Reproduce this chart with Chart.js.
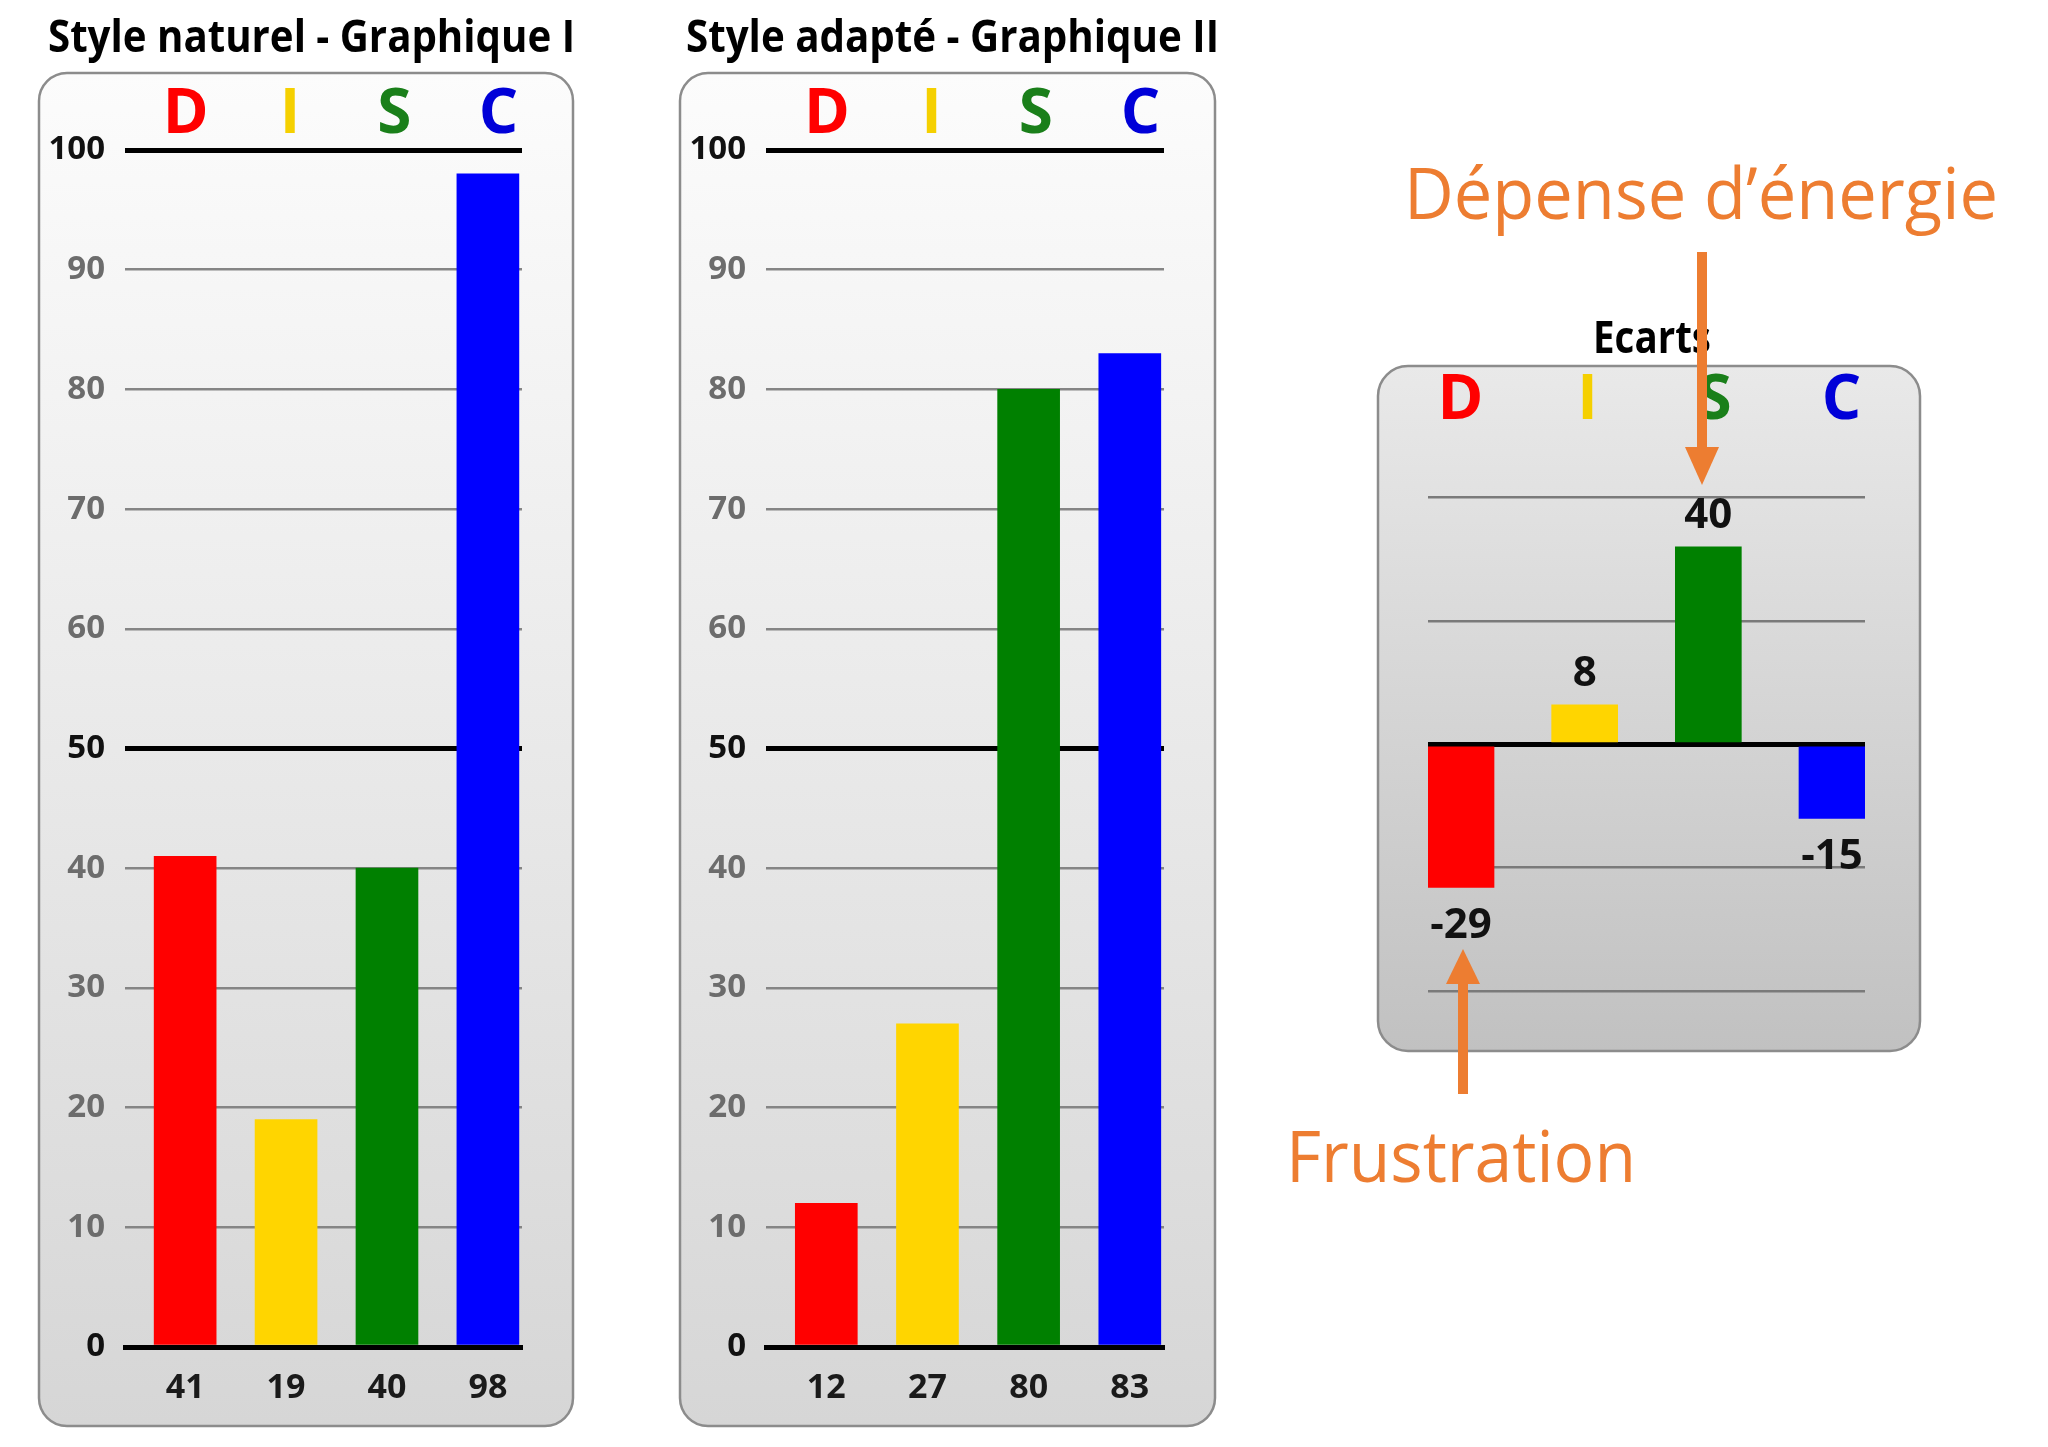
<!DOCTYPE html>
<html lang="fr">
<head>
<meta charset="utf-8">
<title>Style naturel - Style adapté - Ecarts</title>
<script src="https://cdn.jsdelivr.net/npm/chart.js@4.4.1/dist/chart.umd.min.js"></script>
<style>
  body {
    margin: 0;
    background: #fff;
    width: 2048px;
    height: 1447px;
    position: relative;
    overflow: hidden;
    font-family: 'Open Sans', sans-serif;
  }
  svg, canvas { position: absolute; }
  #back, #front { left: 0; top: 0; }
  #front { pointer-events: none; }
  #chartNat { left: 39px; top: 73px; }
  #chartAda { left: 680px; top: 73px; }
  #chartEcarts { left: 1378px; top: 366px; }
</style>
</head>
<body>
<svg id="back" width="2048" height="1447">
  <defs>
    <linearGradient id="gPanel" x1="0" y1="0" x2="0" y2="1">
      <stop offset="0" stop-color="#fcfcfc"/>
      <stop offset="1" stop-color="#d6d6d6"/>
    </linearGradient>
    <linearGradient id="gEcarts" x1="0" y1="0" x2="0" y2="1">
      <stop offset="0" stop-color="#e9e9e9"/>
      <stop offset="1" stop-color="#c1c1c1"/>
    </linearGradient>
  </defs>
  <rect x="39" y="73" width="534" height="1353" rx="28" fill="url(#gPanel)" stroke="#8c8c8c" stroke-width="2.5"/>
  <rect x="680" y="73" width="535" height="1353" rx="28" fill="url(#gPanel)" stroke="#8c8c8c" stroke-width="2.5"/>
  <rect x="1378" y="366" width="542" height="685" rx="30" fill="url(#gEcarts)" stroke="#8c8c8c" stroke-width="2.5"/>
</svg>

<canvas id="chartNat" width="534" height="1353"></canvas>
<canvas id="chartAda" width="535" height="1353"></canvas>
<canvas id="chartEcarts" width="542" height="685"></canvas>

<svg id="front" width="2048" height="1447" font-family="'Open Sans', sans-serif">
  <text x="48" y="52" font-size="44" font-weight="bold" fill="#000" textLength="527" lengthAdjust="spacingAndGlyphs">Style naturel - Graphique I</text>
  <text x="686" y="52" font-size="44" font-weight="bold" fill="#000" textLength="533" lengthAdjust="spacingAndGlyphs">Style adapté - Graphique II</text>
  <text x="1593" y="353" font-size="44" font-weight="bold" fill="#000" textLength="118" lengthAdjust="spacingAndGlyphs">Ecarts</text>
  <text x="1404" y="219" font-size="72" fill="#ed7d31" textLength="594" lengthAdjust="spacingAndGlyphs">Dépense d’énergie</text>
  <text x="1286" y="1182" font-size="72" fill="#ed7d31" textLength="350" lengthAdjust="spacingAndGlyphs">Frustration</text>
  <!-- flèches -->
  <rect x="1697" y="252" width="10" height="200" fill="#ed7d31"/>
  <polygon points="1685,447 1719,447 1702,485" fill="#ed7d31"/>
  <rect x="1458" y="980" width="10" height="114" fill="#ed7d31"/>
  <polygon points="1446,984 1480,984 1463,949" fill="#ed7d31"/>
</svg>

<script>
const categories = ['D', 'I', 'S', 'C'];
const naturel = [41, 19, 40, 98];
const adapte = [12, 27, 80, 83];
const ecarts = [-29, 8, 40, -15];

const barColors = ['#ff0000', '#ffd500', '#008000', '#0000ff'];
const letterColors = ['#ff0000', '#f5d000', '#1a7f1a', '#0000d8'];

Chart.defaults.font.family = "'Open Sans', sans-serif";

function toPoints(values) {
    return values.map((v, i) => ({ x: i, y: v }));
}

// valeur du tick, si le contexte en a une
const tv = (c) => (c && c.tick ? c.tick.value : null);
const major = (c) => tv(c) !== null && tv(c) % 50 === 0;

// graphiques 0-100 (naturel et adapté)
function discChart(id, values) {
    return new Chart(document.getElementById(id), {
        type: 'bar',
        data: {
            datasets: [{
                data: toPoints(values),
                backgroundColor: barColors,
                barThickness: 62,
                xAxisID: 'x',
                yAxisID: 'y'
            }]
        },
        options: {
            responsive: false,
            animation: false,
            layout: { padding: { left: 0, right: 51, top: 0, bottom: 0 } },
            plugins: { legend: { display: false }, tooltip: { enabled: false } },
            scales: {
                x: {
                    type: 'linear', position: 'bottom', offset: false,
                    min: -0.596, max: 3.338,
                    grid: { display: false },
                    border: { display: true, color: '#000', width: 5, z: 1 },
                    ticks: {
                        stepSize: 1, includeBounds: false, padding: 16,
                        color: '#1a1a1a',
                        font: { size: 34, weight: 'bold', lineHeight: 1 },
                        callback: (v) => values[v] !== undefined ? String(values[v]) : ''
                    },
                    afterFit: (s) => { s.height = 79; }
                },
                xTop: {
                    type: 'linear', position: 'top', offset: false,
                    min: -0.582, max: 3.225,
                    grid: { display: false },
                    border: { display: false },
                    ticks: {
                        stepSize: 1, includeBounds: false, padding: 0,
                        color: (c) => letterColors[tv(c)] || '#000',
                        font: { size: 62, weight: 'bold', lineHeight: '54px' },
                        callback: (v) => categories[v] || ''
                    },
                    afterFit: (s) => { s.height = 77; }
                },
                y: {
                    min: 0, max: 100,
                    border: { display: false },
                    grid: {
                        drawTicks: false,
                        color: (c) => major(c) ? '#000' : '#858585',
                        lineWidth: (c) => major(c) ? 5 : 2.5
                    },
                    ticks: {
                        stepSize: 10, padding: 20,
                        color: (c) => major(c) ? '#111' : '#6c6c6c',
                        font: { size: 33, weight: 'bold', lineHeight: 1 }
                    },
                    afterFit: (s) => { s.width = 86; }
                }
            }
        }
    });
}

discChart('chartNat', naturel);
discChart('chartAda', adapte);

// étiquettes des valeurs pour les écarts
const valueLabels = {
    id: 'valueLabels',
    afterDatasetsDraw(chart) {
        const ctx = chart.ctx;
        const meta = chart.getDatasetMeta(0);
        ctx.save();
        ctx.font = "bold 42px 'Open Sans', sans-serif";
        ctx.fillStyle = '#111';
        ctx.textAlign = 'center';
        ctx.textBaseline = 'middle';
        meta.data.forEach((bar, i) => {
            const v = ecarts[i];
            ctx.fillText(String(v), bar.x, v >= 0 ? bar.y - 31 : bar.y + 39);
        });
        ctx.restore();
    }
};

new Chart(document.getElementById('chartEcarts'), {
    type: 'bar',
    data: {
        datasets: [{
            data: toPoints(ecarts),
            backgroundColor: barColors,
            barThickness: 66,
            xAxisID: 'x',
            yAxisID: 'y'
        }]
    },
    options: {
        responsive: false,
        animation: false,
        layout: { padding: { left: 0, right: 55, top: 0, bottom: 0 } },
        plugins: { legend: { display: false }, tooltip: { enabled: false } },
        scales: {
            x: {
                type: 'linear', position: 'bottom', offset: false,
                min: -0.267, max: 3.267,
                grid: { display: false },
                border: { display: false },
                ticks: { display: false, stepSize: 1 },
                afterFit: (s) => { s.height = 60; }
            },
            xTop: {
                type: 'linear', position: 'top', offset: false,
                min: -0.256, max: 3.184,
                grid: { display: false },
                border: { display: false },
                ticks: {
                    stepSize: 1, includeBounds: false, padding: 0,
                    color: (c) => letterColors[tv(c)] || '#000',
                    font: { size: 62, weight: 'bold', lineHeight: '176px' },
                    callback: (v) => categories[v] || ''
                },
                afterFit: (s) => { s.height = 131.6; }
            },
            y: {
                min: -50, max: 50,
                border: { display: false },
                grid: {
                    drawTicks: false,
                    color: (c) => tv(c) === 0 ? '#000' : '#7a7a7a',
                    lineWidth: (c) => tv(c) === 0 ? 5 : 2.5
                },
                ticks: { display: false, stepSize: 25 },
                afterFit: (s) => { s.width = 50; }
            }
        }
    },
    plugins: [valueLabels]
});
</script>
</body>
</html>
